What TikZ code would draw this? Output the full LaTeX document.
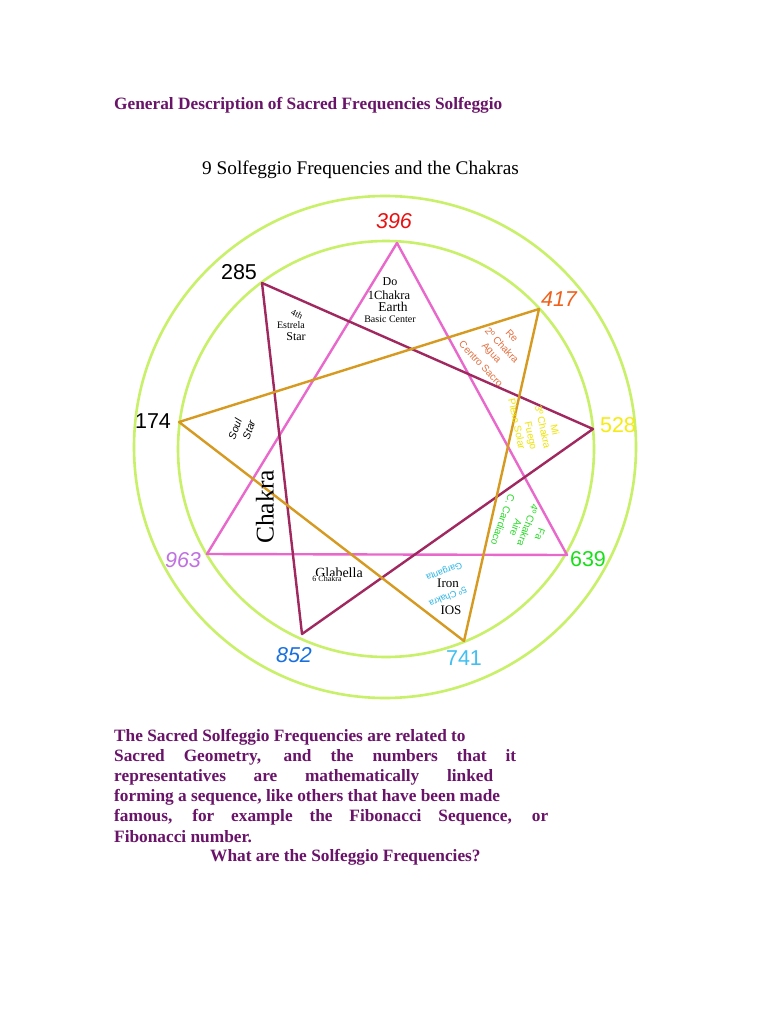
\documentclass[tikz,border=0pt]{standalone}
\usepackage{fontspec}
\setmainfont{Liberation Serif}
\newfontfamily\arial{Liberation Sans}
\definecolor{purp}{RGB}{105,20,105}
\definecolor{ringgreen}{RGB}{200,240,105}
\definecolor{pinkc}{RGB}{232,104,204}
\definecolor{maroonc}{RGB}{160,40,95}
\definecolor{goldc}{RGB}{214,154,32}
\definecolor{c396}{RGB}{232,16,16}
\definecolor{c417}{RGB}{240,96,24}
\definecolor{c528}{RGB}{246,236,16}
\definecolor{c639}{RGB}{24,224,24}
\definecolor{c741}{RGB}{64,192,240}
\definecolor{c852}{RGB}{24,112,224}
\definecolor{c963}{RGB}{192,112,224}
\definecolor{corange}{RGB}{228,112,64}
\definecolor{cyellow}{RGB}{240,228,0}
\definecolor{cgreen}{RGB}{40,220,40}
\definecolor{ccyan}{RGB}{40,180,230}
\tikzset{
  ring/.style={draw=ringgreen, line width=2.6pt},
  tri/.style={line width=2.4pt, line join=round},
  num/.style={inner sep=0pt, font=\arial\fontsize{21.5}{21.5}\selectfont},
  inum/.style={num, font=\arial\itshape\fontsize{21.5}{21.5}\selectfont},
  lbl/.style={inner sep=0pt},
  para/.style={inner sep=0pt, anchor=west, text=purp, font=\bfseries\fontsize{17.3}{17.3}\selectfont},
  slab/.style={inner sep=0pt, font=\arial\fontsize{10}{10}\selectfont}
}
\begin{document}
\begin{tikzpicture}[x=1pt,y=-1pt]
\useasboundingbox[fill=white] (0,0) rectangle (768,1024);

% titles
\node[para] (title) at (114,105) {General Description of Sacred Frequencies Solfeggio};
\node[lbl, anchor=west, font=\fontsize{19.3}{19.3}\selectfont] (sub) at (202,170) {9 Solfeggio Frequencies and the Chakras};

% circles
\coordinate (ctr) at (386,449);
\draw[ring] (385,447) circle[radius=251pt];
\draw[ring] (ctr) circle[radius=208pt];

% vertices
\coordinate (v396) at (397,243);
\coordinate (v417) at (539,309);
\coordinate (v528) at (593,429);
\coordinate (v639) at (567,555);
\coordinate (v741) at (464,641);
\coordinate (v852) at (302,634);
\coordinate (v963) at (207,554);
\coordinate (v174) at (179,422);
\coordinate (v285) at (262,283);

% triangles
\draw[tri, draw=pinkc] (v396) -- (v639) -- (v963) -- cycle;
\draw[tri, draw=maroonc] (v285) -- (v528) -- (v852) -- cycle;
\draw[tri, draw=goldc] (v174) -- (v417) -- (v741) -- cycle;

% numbers
\node[inum, text=c396] (n396) at (394,221) {396};
\node[num] (n285) at (239,272) {285};
\node[inum, text=c417] (n417) at (559,299) {417};
\node[num, text=c528] (n528) at (618,425) {528};
\node[num] (n174) at (153,421) {174};
\node[inum, text=c963] (n963) at (183,560) {963};
\node[num, text=c639] (n639) at (588,559) {639};
\node[num, text=c741] (n741) at (464,658) {741};
\node[inum, text=c852] (n852) at (294,655) {852};

% Do block
\node[lbl, font=\fontsize{12}{12}\selectfont] (do) at (390,282) {Do};
\node[lbl, font=\fontsize{12.5}{12.5}\selectfont] (c1) at (389,295) {1Chakra};
\node[lbl, font=\fontsize{13.5}{13.5}\selectfont] (earth) at (393,307) {Earth};
\node[lbl, font=\fontsize{10}{10}\selectfont] (basic) at (390,319) {Basic Center};

% 4th star
\node[lbl, font=\fontsize{9}{9}\selectfont, rotate=-25] (fourth) at (297,314) {4th};
\node[lbl, font=\fontsize{10}{10}\selectfont] (estr) at (291,325) {Estrela};
\node[lbl, font=\fontsize{12}{12}\selectfont] (star4) at (296,337) {Star};

% Re block
\node[slab, text=corange, rotate=-47] (re1) at (512,336) {Re};
\node[slab, text=corange, rotate=-47] (re2) at (502,345) {2º Chakra};
\node[slab, text=corange, rotate=-47] (re3) at (491,353) {Agua};
\node[slab, text=corange, rotate=-47] (re4) at (481,364) {Centro Sacro};

% Mi block
\node[slab, text=cyellow, rotate=-78] (mi1) at (555,430) {Mi};
\node[slab, text=cyellow, rotate=-78] (mi2) at (543,427) {3º Chakra};
\node[slab, text=cyellow, rotate=-78] (mi3) at (530,436) {Fuego};
\node[slab, text=cyellow, rotate=-78] (mi4) at (517,424) {Plexo Solar};

% Fa block
\node[slab, text=cgreen, rotate=-110] (fa1) at (540,534) {Fa};
\node[slab, text=cgreen, rotate=-110] (fa2) at (528,525) {4º Chakra};
\node[slab, text=cgreen, rotate=-110] (fa3) at (516,528) {Aire};
\node[slab, text=cgreen, rotate=-110] (fa4) at (503,520) {C. Cardiaco};

% Sol block
\node[slab, text=ccyan, font=\arial\fontsize{9}{9}\selectfont, rotate=200] (so1) at (444,571) {Garganta};
\node[lbl, font=\fontsize{13}{13}\selectfont] (iron) at (448,583) {Iron};
\node[slab, text=ccyan, font=\arial\fontsize{9}{9}\selectfont, rotate=203] (so2) at (448,597) {5º Chakra};
\node[lbl, font=\fontsize{13}{13}\selectfont] (ios) at (451,610) {IOS};

% Glabella
\node[lbl, font=\fontsize{14}{14}\selectfont] (glab) at (339,573) {Glabella};
\node[lbl, font=\fontsize{8}{8}\selectfont, fill=white, inner sep=0.5pt] (c6) at (327,579) {6 Chakra};

% Chakra big
\node[lbl, font=\fontsize{25.5}{25.5}\selectfont, rotate=90] (chak) at (265,507) {Chakra};

% Soul star
\node[slab, font=\arial\itshape\fontsize{10.5}{10.5}\selectfont, rotate=70] (soul) at (235,429) {Soul};
\node[slab, font=\arial\itshape\fontsize{10.5}{10.5}\selectfont, rotate=70] (sstar) at (249,430) {Star};

% paragraph
\node[para] (p1) at (114,737) {The Sacred Solfeggio Frequencies are related to};
\node[para] (p2) at (114,757) {\makebox[402pt][s]{Sacred Geometry, and the numbers that it}};
\node[para] (p3) at (114,777) {\makebox[379pt][s]{representatives are mathematically linked}};
\node[para] (p4) at (114,797) {forming a sequence, like others that have been made};
\node[para] (p5) at (114,817) {\makebox[434pt][s]{famous, for example the Fibonacci Sequence, or}};
\node[para] (p6) at (114,837) {Fibonacci number.};
\node[para] (p7) at (210,857) {What are the Solfeggio Frequencies?};
\end{tikzpicture}
\end{document}
